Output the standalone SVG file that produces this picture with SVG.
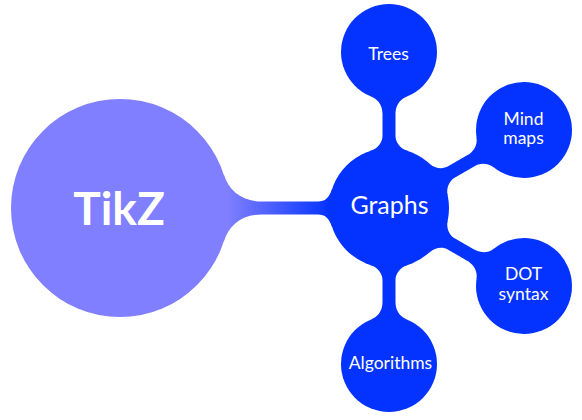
<svg xmlns="http://www.w3.org/2000/svg" width="582" height="420" viewBox="0 0 582 420">
<defs>
<linearGradient id="barGrad" gradientUnits="userSpaceOnUse" x1="228" y1="0" x2="330" y2="0">
<stop offset="0" stop-color="#7f7fff"/>
<stop offset="1" stop-color="#0433ff"/>
</linearGradient>
<path id="stem" d="M57.06,18.54 C59.5,10.9 66,6.5 72,6.5 L94,6.5 C100,6.5 107.75,8.7 111.5,18 L111.5,-18 C107.75,-8.7 100,-6.5 94,-6.5 L72,-6.5 C66,-6.5 59.5,-10.9 57.06,-18.54 Z"/>
</defs>
<style>
.child{fill:#0433ff}
.root{fill:#7f7fff}
.bar{fill:#0433ff}
text{fill:#ffffff;font-family:Lato,"Open Sans","DejaVu Sans",sans-serif;text-anchor:middle}
.lbl{font-size:17.5px}
</style>
<rect width="582" height="420" fill="#ffffff"/>
<g id="connectors">
<path fill="url(#barGrad)" d="M223.7,174.3 C229.3,191.4 242,201.5 262,201.5 L318,201.5 C325,201.5 329.1,198 332.3,188.5 L332.3,227.5 C329.1,218 325,214.5 318,214.5 L262,214.5 C242,214.5 229.3,224.6 223.7,241.7 Z"/>
<g transform="translate(389,208)" class="bar">
<use href="#stem" transform="rotate(-90)"/>
<use href="#stem" transform="rotate(-30)"/>
<use href="#stem" transform="rotate(30)"/>
<use href="#stem" transform="rotate(90)"/>
</g>
</g>
<g id="tikz">
<circle class="root" cx="120" cy="208" r="109"/>
<text x="119" y="225" style="font-size:46px;font-weight:bold">TikZ</text>
</g>
<g id="graphs">
<circle class="child" cx="389" cy="208" r="60"/>
<text x="389.5" y="214" style="font-size:25px">Graphs</text>
</g>
<g id="trees">
<circle class="child" cx="389" cy="52" r="48"/>
<text class="lbl" x="388.5" y="59.5">Trees</text>
</g>
<g id="mindmaps">
<circle class="child" cx="524" cy="130" r="48"/>
<text class="lbl" x="523.5" y="125">Mind</text>
<text class="lbl" x="523.5" y="144">maps</text>
</g>
<g id="dot">
<circle class="child" cx="524" cy="286" r="48"/>
<text class="lbl" x="523.5" y="280">DOT</text>
<text class="lbl" x="523.5" y="300">syntax</text>
</g>
<g id="algorithms">
<circle class="child" cx="389" cy="364" r="48"/>
<text class="lbl" x="390.5" y="368.5">Algorithms</text>
</g>
</svg>
